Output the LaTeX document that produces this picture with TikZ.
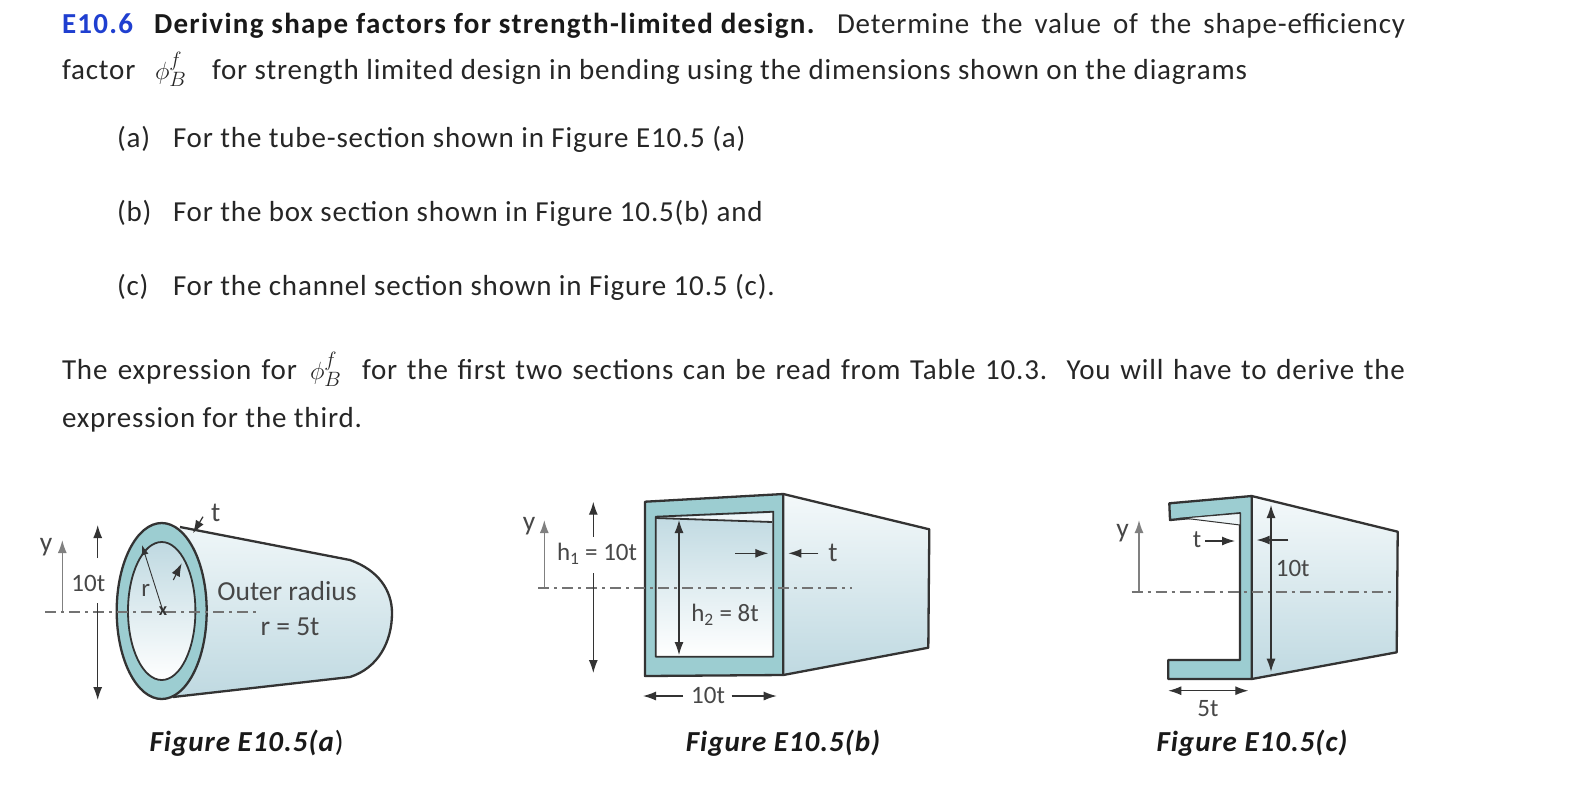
\documentclass[tikz,border=0pt]{standalone}
\usepackage{fontspec}
\setmainfont{Carlito}
\newfontfamily\wideface[LetterSpace=2.9]{Carlito}
\newfontfamily\boldwide[LetterSpace=4.5]{Carlito}
\newfontfamily\capwide[LetterSpace=3.4]{Carlito}
\usetikzlibrary{arrows.meta}
\definecolor{ringc}{HTML}{9CCDD1}
\definecolor{bluehd}{HTML}{1F3FD0}
\definecolor{linec}{HTML}{333333}
\definecolor{shadeA}{HTML}{EFF6F8}
\definecolor{shadeB}{HTML}{BFD9E1}
\tikzset{
  x=1pt,y=-1pt,
  bodytxt/.style={anchor=base west,inner sep=0pt,outer sep=0pt,font=\fontsize{29}{31}\selectfont\wideface,text=black!85},
  boldtxt/.style={anchor=base west,inner sep=0pt,outer sep=0pt,font=\fontsize{29}{31}\selectfont\boldwide\bfseries,text=black!90},
  figcap/.style={anchor=center,inner sep=0pt,font=\fontsize{29}{31}\selectfont\capwide\bfseries\itshape,text=black!90},
  lab/.style={anchor=center,inner sep=0pt,font=\fontsize{25}{27}\selectfont,text=black!72},
  labbig/.style={lab,font=\fontsize{27.5}{29}\selectfont},
  dimline/.style={draw=linec,line width=1.2pt,-{Latex[length=13pt,width=9pt]}},
  dimboth/.style={draw=linec,line width=1.2pt,{Latex[length=13pt,width=9pt]}-{Latex[length=13pt,width=9pt]}},
  axisline/.style={draw=black!55,line width=1.8pt,dash pattern=on 11pt off 5pt on 3pt off 5pt},
  yline/.style={draw=black!50,line width=1.5pt,-{Latex[length=13pt,width=9pt]}},
  outl/.style={draw=linec,line width=2.3pt,line join=round},
  inoutl/.style={draw=linec,line width=1.8pt,line join=round},
}
\begin{document}
\begin{tikzpicture}
\useasboundingbox (0,0) rectangle (1570,804);
\fill[white] (0,0) rectangle (1570,804);
% --- text ---
\node[boldtxt,text=bluehd] (e) at (62,33) {E10.6};
\node[boldtxt] (t1) at (154,33) {Deriving shape factors for strength-limited design.};
\node[bodytxt] (t2) at (837,33) {\makebox[568pt][s]{Determine the value of the shape-efficiency}};
\node[bodytxt] (t3) at (62,79) {factor};
\node[bodytxt] (t4) at (155,79) {$\phi_B^f$};
\node[bodytxt] (t5) at (212,79) {for strength limited design in bending using the dimensions shown on the diagrams};
\node[bodytxt] (a1) at (117,147) {(a)};
\node[bodytxt] (a2) at (173,147) {For the tube-section shown in Figure E10.5 (a)};
\node[bodytxt] (b1) at (117,221) {(b)};
\node[bodytxt] (b2) at (173,221) {For the box section shown in Figure 10.5(b) and};
\node[bodytxt] (c1) at (117,295) {(c)};
\node[bodytxt] (c2) at (173,295) {For the channel section shown in Figure 10.5 (c).};
\node[bodytxt] (d1) at (62,379) {\makebox[235pt][s]{The expression for}};
\node[bodytxt] (d2) at (310,379) {$\phi_B^f$};
\node[bodytxt] (d3) at (362,379) {\makebox[1043pt][s]{for the first two sections can be read from Table 10.3.\ \ You will have to derive the}};
\node[bodytxt] (d4) at (62,427) {expression for the third.};
% --- tube ---
\shade[top color=shadeA,bottom color=shadeB] (180,527) -- (350,560) .. controls (378,570) and (392,590) .. (392,613) .. controls (392,642) and (378,668) .. (350,677) -- (173,697) -- cycle;
\draw[outl] (180,527) -- (350,560) .. controls (378,570) and (392,590) .. (392,613) .. controls (392,642) and (378,668) .. (350,677) -- (173,697);
\fill[ringc,even odd rule] (161.7,611) ellipse [x radius=45,y radius=88] (161.7,611) ellipse [x radius=33.7,y radius=69];
\draw[outl] (161.7,611) ellipse [x radius=45,y radius=88];
\shade[top color=shadeB,bottom color=white] (161.7,611) ellipse [x radius=33.7,y radius=69];
\draw[inoutl] (161.7,611) ellipse [x radius=33.7,y radius=69];
\coordinate (ty0) at (62.3,611); \coordinate (ty1) at (62.3,540);
\coordinate (tda) at (45,611.7); \coordinate (tdb) at (260,611.7);
\coordinate (tu0) at (97.7,558); \coordinate (tu1) at (97.7,525);
\coordinate (td0) at (97.7,603); \coordinate (td1) at (97.7,700);
\coordinate (tc) at (163,611); \coordinate (tr) at (142,545);
\coordinate (tt0) at (203,516.7); \coordinate (tt1) at (193,533.3);
\coordinate (tt2) at (173.3,580); \coordinate (tt3) at (181.7,563.3);
\draw[yline] (ty0) -- (ty1);
\draw[axisline] (tda) -- (tdb);
\draw[dimline] (tu0) -- (tu1);
\draw[dimline] (td0) -- (td1);
\draw[draw=linec,line width=.9pt,-{Latex[length=10pt,width=7pt]}] (tc) -- (tr);
\draw[dimline] (tt0) -- (tt1);
\draw[dimline] (tt2) -- (tt3);
\node[inner sep=0pt,font=\fontsize{18}{18}\selectfont\bfseries,text=linec] (tx) at (163,611) {x};
\node[labbig] (ty) at (46,547) {y};
\node[lab] (t10) at (88.3,583) {10t};
\node[lab] (tr1) at (145.7,590) {r};
\node[labbig] (tt) at (215.7,513) {t};
\node[labbig] (to) at (287,591) {Outer radius};
\node[labbig] (tr5) at (290,627) {r = 5t};
\node[figcap] (ca) at (246.7,743) {Figure E10.5(a\textnormal{)}};
% --- box ---
\shade[top color=shadeA!70!white,bottom color=shadeB] (783.3,494) -- (929.3,529.3) -- (928.3,647.7) -- (783.3,675) -- cycle;
\draw[outl] (783.3,494) -- (929.3,529.3) -- (928.3,647.7) -- (783.3,675);
\fill[ringc] (645,501.7) -- (783.3,494) -- (783.3,675) -- (645,676) -- cycle;
\shade[top color=shadeB,bottom color=white] (655.7,516.7) -- (773.3,511.7) -- (773.3,656.7) -- (655.7,656.7) -- cycle;
\fill[shadeA] (655.7,518) -- (773.3,513) -- (772,522) -- cycle;
\draw[outl] (645,501.7) -- (783.3,494) -- (783.3,675) -- (645,676) -- cycle;
\draw[inoutl] (655.7,516.7) -- (773.3,511.7) -- (773.3,656.7) -- (655.7,656.7) -- cycle;
\draw[inoutl] (655.7,518) -- (772,522);
\coordinate (by0) at (544.3,588.3); \coordinate (by1) at (544.3,520);
\coordinate (bda) at (538,588.3); \coordinate (bdb) at (851.7,588.3);
\coordinate (bu0) at (593.3,536.7); \coordinate (bu1) at (593.3,501.7);
\coordinate (bd0) at (593.3,573); \coordinate (bd1) at (593.3,673);
\coordinate (bh0) at (679,520); \coordinate (bh1) at (679,655);
\coordinate (bta) at (735,553.3); \coordinate (btb) at (768.3,553.3);
\coordinate (btc) at (818.3,553.3); \coordinate (btd) at (788.3,553.3);
\coordinate (bwa) at (683,696); \coordinate (bwb) at (643,696);
\coordinate (bwc) at (731.7,696); \coordinate (bwd) at (776.7,696);
\draw[yline] (by0) -- (by1);
\draw[axisline] (bda) -- (bdb);
\draw[dimline] (bu0) -- (bu1);
\draw[dimline] (bd0) -- (bd1);
\draw[dimboth] (bh0) -- (bh1);
\draw[dimline] (bta) -- (btb);
\draw[dimline] (btc) -- (btd);
\draw[dimline] (bwa) -- (bwb);
\draw[dimline] (bwc) -- (bwd);
\node[labbig] (by) at (529,526) {y};
\node[lab] (bh1l) at (597,554) {h$_{\mathrm{1}}$ = 10t};
\node[lab] (bh2l) at (725,615) {h$_{\mathrm{2}}$ = 8t};
\node[labbig] (bt) at (833,553) {t};
\node[lab] (b10) at (708,695) {10t};
\node[figcap] (cb) at (783,743) {Figure E10.5(b)};
% --- channel ---
\shade[top color=shadeA!70!white,bottom color=shadeB] (1251.7,496) -- (1397.7,531.7) -- (1396.7,652.3) -- (1251.7,679) -- cycle;
\draw[outl] (1251.7,496) -- (1397.7,531.7) -- (1396.7,652.3) -- (1251.7,679);
\draw[outl,fill=ringc] (1169.3,503.3) -- (1251.7,496) -- (1251.7,679) -- (1168.3,679) -- (1168.3,660) -- (1240,660) -- (1240,513.3) -- (1170,520) -- cycle;
\fill[shadeA,draw=linec,line width=1pt] (1183,518) -- (1240,513.3) -- (1240,525) -- cycle;
\coordinate (cy0) at (1139,591.7); \coordinate (cy1) at (1139,520);
\coordinate (cda) at (1131.7,591.7); \coordinate (cdb) at (1393,591.7);
\coordinate (cta) at (1205,541); \coordinate (ctb) at (1235,541);
\coordinate (ctc) at (1288.3,540); \coordinate (ctd) at (1256.7,540);
\coordinate (cha) at (1271,505); \coordinate (chb) at (1271,671.7);
\coordinate (cwa) at (1168.3,690.7); \coordinate (cwb) at (1248.3,690.7);
\draw[yline] (cy0) -- (cy1);
\draw[axisline] (cda) -- (cdb);
\draw[dimline] (cta) -- (ctb);
\draw[dimline] (ctc) -- (ctd);
\draw[dimboth] (cha) -- (chb);
\draw[dimboth] (cwa) -- (cwb);
\node[labbig] (cyl) at (1122.7,533) {y};
\node[lab] (ctl) at (1197,540) {t};
\node[lab] (c10) at (1292.7,568) {10t};
\node[lab] (c5) at (1208,709) {5t};
\node[figcap] (cc) at (1252,743) {Figure E10.5(c)};
\end{tikzpicture}
\end{document}
